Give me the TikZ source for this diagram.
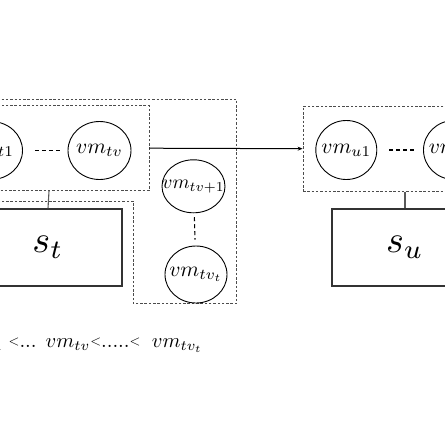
\documentclass[tikz,border=0pt]{standalone}
\usepackage{graphicx}
\usetikzlibrary{shapes.geometric,arrows.meta}
\newcommand{\vmtxt}[2][2.15]{\scalebox{#1}{#2}}
\newcommand{\srvtxt}[1]{\scalebox{3.8}{#1}}
\newcommand{\smlt}{\mathord{\raisebox{0.5pt}{\scalebox{0.68}{$<$}}}}
\begin{document}
\begin{tikzpicture}[x=1pt,y=-1pt,
  vmnode/.style={ellipse,draw=black,line width=0.9pt,inner sep=0pt,minimum width=63pt,minimum height=58pt},
  vmlabel/.style={label={[inner sep=0pt]center:{\vmtxt{$#1$}}}},
  vmlabelsmall/.style={label={[inner sep=0pt]center:{\vmtxt[1.95]{$#1$}}}},
  groupbox/.style={draw=black!70,dashed,dash pattern=on 2.5pt off 1.8pt,line width=0.8pt,inner sep=0pt},
  srvbox/.style={draw=black!80,line width=1.2pt,inner sep=0pt},
  link/.style={draw=black!65,line width=1.1pt},
  gap/.style={dashed,dash pattern=on 4pt off 3pt,line width=1.1pt}]
\useasboundingbox (0,0) rectangle (445,445);
\clip (0,0) rectangle (445,445);
% groups
\node[groupbox,minimum width=200pt,minimum height=85pt] (gt) at (49,148.2) {};
\node[groupbox,minimum width=204pt,minimum height=85pt] (gu) at (405,148.7) {};
% servers
\node[srvbox,minimum width=148pt,minimum height=77pt] (st) at (48,247.5) {\srvtxt{$s_t$}};
\node[srvbox,minimum width=146pt,minimum height=77pt] (su) at (405,247.5) {\srvtxt{$s_u$}};
% outer dashed outline
\coordinate (o1) at (-80,99);
\coordinate (o2) at (236.5,99);
\coordinate (o3) at (236.5,303.5);
\coordinate (o4) at (133,303.5);
\coordinate (o5) at (133,201);
\coordinate (o6) at (-80,201);
\draw[groupbox] (o1) -- (o2) -- (o3) -- (o4) -- (o5) -- (o6);
% vm nodes
\node[vmnode,vmlabel={vm_{t1}}] (t1) at (-9,150.5) {};
\node[vmnode,vmlabel={vm_{tv}}] (tv) at (99.5,150.5) {};
\node[vmnode,minimum height=53pt,vmlabelsmall={vm_{tv+1}}] (tv1) at (193.5,186.3) {};
\node[vmnode,minimum width=62pt,minimum height=57pt,vmlabel={vm_{tv_t}}] (tvt) at (196,274.5) {};
\node[vmnode,minimum width=61pt,minimum height=59pt,vmlabel={vm_{u1}}] (u1) at (346.3,150) {};
\node[vmnode,minimum width=61pt,minimum height=59pt,vmlabel={vm_{uv}}] (uv) at (454,150) {};
% dashed gaps
\draw[gap,shorten <=12pt,shorten >=8pt] (t1) -- (tv);
\draw[gap,shorten <=4pt,shorten >=6pt] (tv1) -- (tvt);
\draw[gap,shorten <=12pt,shorten >=8pt] (u1) -- (uv);
% links
\draw[link] (gt.south) -- (st.north);
\draw[link] (gu.south) -- (su.north);
\draw[line width=1pt,-{Stealth[length=5pt,width=4pt]}] (gt.east) -- (gu.west);
% ordering
\node[anchor=base east,inner sep=0pt] (ord) at (203,347)
  {\vmtxt[2.05]{$vm_{t1}\;\smlt...\;\,vm_{tv}\smlt.....\smlt\;\;vm_{tv_t}$}};
\end{tikzpicture}
\end{document}
